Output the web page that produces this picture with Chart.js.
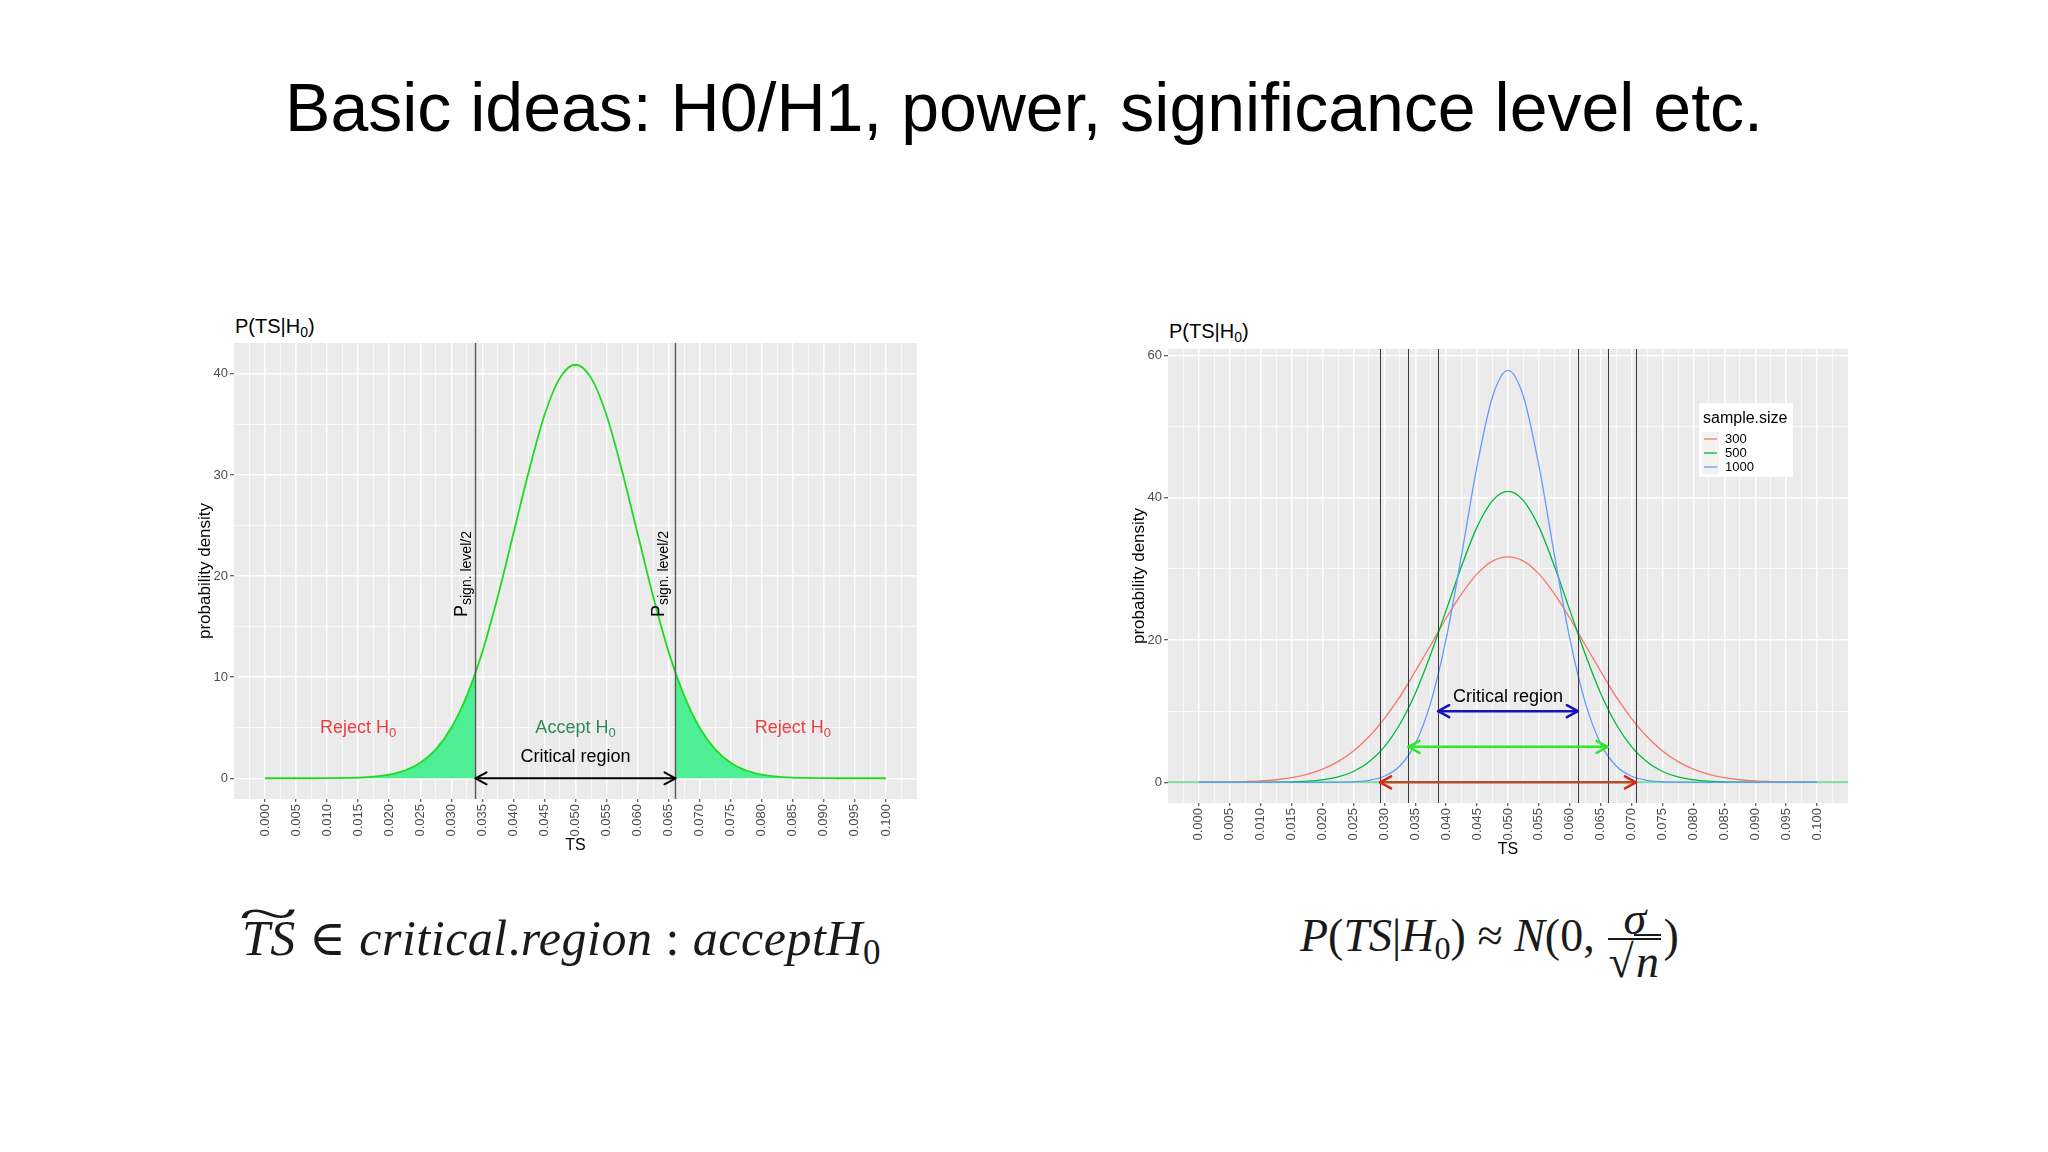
<!DOCTYPE html>
<html>
<head>
<meta charset="utf-8">
<script src="https://cdn.jsdelivr.net/npm/chart.js@4.4.1/dist/chart.umd.min.js"></script>
<style>
  html, body { margin: 0; padding: 0; background: #fff; }
  body { width: 2048px; height: 1152px; position: relative; overflow: hidden; font-family: "Liberation Sans", Arial, sans-serif; }
  .slide-title { position: absolute; left: 0; top: 73px; width: 2048px; text-align: center; font-size: 68px; line-height: 68px; color: #000; }
  .plot-title { position: absolute; font-size: 20px; line-height: 20px; color: #000; white-space: nowrap; }
  .plot-title sub { font-size: 14px; line-height: 0; vertical-align: -4px; }
  .chart-box { position: absolute; }
  .formula { position: absolute; font-family: "Liberation Serif", "DejaVu Serif", serif; color: #1a1a1a; white-space: nowrap; }
  .formula sub { font-size: 0.7em; line-height: 0; vertical-align: -0.25em; }
  #formulaLeft { left: 242px; top: 913px; font-size: 50px; line-height: 50px; letter-spacing: 0.5px; }
  #formulaRight { left: 1300px; top: 899px; font-size: 46px; line-height: 46px; }
  .tilde { position: relative; display: inline-block; }
  .tilde::before { content: "~"; position: absolute; left: 0; right: 0; top: -0.5em; text-align: center; font-style: normal; transform: scaleX(2.2); }
  .frac { display: inline-block; vertical-align: middle; text-align: center; margin: 0 0.05em; }
  .frac .num { display: block; line-height: 0.85em; padding: 0 0.1em; }
  .frac .den { display: block; line-height: 0.85em; border-top: 2px solid #1a1a1a; padding-top: 2px; }
  .rad { border-top: 2px solid #1a1a1a; padding: 0 0.05em; }
</style>
</head>
<body>
<div class="slide-title">Basic ideas: H0/H1, power, significance level etc.</div>

<div class="plot-title" style="left:235px; top:316px;">P(TS|H<sub>0</sub>)</div>
<div class="plot-title" style="left:1169px; top:321px;">P(TS|H<sub>0</sub>)</div>

<div class="chart-box" style="left:170px; top:300px;"><canvas id="leftChart" width="770" height="580"></canvas></div>
<div class="chart-box" style="left:1104px; top:306px;"><canvas id="rightChart" width="767" height="578"></canvas></div>

<div class="formula" id="formulaLeft"><span class="tilde"><i>TS</i></span> ∈ <i>critical</i>.<i>region</i> : <i>accept</i><i>H</i><sub>0</sub></div>
<div class="formula" id="formulaRight"><i>P</i>(<i>TS</i>|<i>H</i><sub>0</sub>) ≈ <i>N</i>(0, <span class="frac"><span class="num"><i>σ</i></span><span class="den">√<span class="rad"><i>n</i></span></span></span>)</div>

<script>
    // Значения TS (общая ось для обоих графиков)
    const tsValues = [0, 0.0025, 0.005, 0.0075, 0.01, 0.0125, 0.015, 0.0175, 0.02, 0.0225,
        0.025, 0.0275, 0.03, 0.0325, 0.035, 0.0375, 0.04, 0.0425, 0.045, 0.0475,
        0.05, 0.0525, 0.055, 0.0575, 0.06, 0.0625, 0.065, 0.0675, 0.07, 0.0725,
        0.075, 0.0775, 0.08, 0.0825, 0.085, 0.0875, 0.09, 0.0925, 0.095, 0.0975, 0.1];
    const tsTickLabels = ['0.000', '0.005', '0.010', '0.015', '0.020', '0.025', '0.030', '0.035',
        '0.040', '0.045', '0.050', '0.055', '0.060', '0.065', '0.070', '0.075', '0.080',
        '0.085', '0.090', '0.095', '0.100'];
    const leftDensityTicks = ['0', '10', '20', '30', '40'];
    const rightDensityTicks = ['0', '20', '40', '60'];

    // Плотности
    const densityN300 = [0.01, 0.03, 0.05, 0.11, 0.20, 0.37, 0.66, 1.13, 1.85, 2.91, 4.40, 6.40, 8.96,
        12.0, 15.6, 19.3, 23.1, 26.5, 29.3, 31.1, 31.7, 31.1, 29.3, 26.5, 23.1, 19.3, 15.6, 12.0,
        8.96, 6.40, 4.40, 2.91, 1.85, 1.13, 0.66, 0.37, 0.20, 0.11, 0.05, 0.03, 0.01];
    const densityN500 = [0, 0, 0, 0, 0.01, 0.03, 0.07, 0.16, 0.36, 0.77, 1.53, 2.85, 4.99, 8.17,
        12.5, 18.0, 24.2, 30.4, 35.9, 39.6, 40.9, 39.6, 35.9, 30.4, 24.2, 18.0, 12.5, 8.17,
        4.99, 2.85, 1.53, 0.77, 0.36, 0.16, 0.07, 0.03, 0.01, 0, 0, 0, 0];
    const densityN1000 = [0, 0, 0, 0, 0, 0, 0, 0, 0.01, 0.02, 0.08, 0.28, 0.86, 2.30, 5.41, 11.2,
        20.2, 32.0, 44.5, 54.2, 57.9, 54.2, 44.5, 32.0, 20.2, 11.2, 5.41, 2.30, 0.86, 0.28,
        0.08, 0.02, 0.01, 0, 0, 0, 0, 0, 0, 0, 0];

    // Границы критической области
    const sampleSizes = ['300', '500', '1000'];
    const lowerBounds = [0.0293, 0.0339, 0.0387];
    const upperBounds = [0.0707, 0.0661, 0.0613];
    const arrowLevels = [0, 5, 10];
    const boundDensityN500 = 10.6;

    const FONT = '"Liberation Sans", Arial, sans-serif';
    const curveColors = ['#F8766D', '#00BA38', '#619CFF'];
    const arrowColors = ['#B0502A', '#2EE82E', '#1414B8'];

    Chart.defaults.font.family = FONT;

    function toPoints(xs, ys) {
        return xs.map((x, i) => ({x: x, y: ys[i]}));
    }

    // Деления оси TS: подписи + малые линии сетки
    function tsTicks() {
        const ticks = [{value: -0.0025, minor: true, lbl: ''}];
        tsTickLabels.forEach(lbl => {
            ticks.push({value: Number(lbl), minor: false, lbl: lbl});
            ticks.push({value: Number(lbl) + 0.0025, minor: true, lbl: ''});
        });
        return ticks;
    }

    function densityTicks(labels, max) {
        const vals = labels.map(Number);
        const step = vals[1] - vals[0];
        const ticks = [];
        vals.forEach((v, i) => {
            ticks.push({value: v, minor: false, lbl: labels[i]});
            if (v + step / 2 < max) ticks.push({value: v + step / 2, minor: true, lbl: ''});
        });
        return ticks;
    }

    function gridStyle(tickLength) {
        return {
            color: '#FFFFFF',
            lineWidth: c => (c.tick && c.tick.minor) ? 0.7 : 1.5,
            drawTicks: true,
            tickLength: tickLength,
            tickWidth: 1,
            tickColor: c => (c.tick && c.tick.minor) ? 'rgba(0,0,0,0)' : '#333333'
        };
    }

    function makeScales(yMin, yMax, yLabels) {
        return {
            x: {
                type: 'linear', min: -0.005, max: 0.105,
                afterBuildTicks: axis => { axis.ticks = tsTicks(); },
                afterFit: axis => { axis.height = 81; },
                grid: gridStyle(3),
                border: {display: false},
                ticks: {
                    autoSkip: false, minRotation: 90, maxRotation: 90, padding: 2,
                    color: '#4D4D4D', font: {size: 13},
                    callback: (v, i, t) => t[i].lbl
                },
                title: {display: true, text: 'TS', color: '#000', font: {size: 16}, padding: {top: 0, bottom: 25}}
            },
            y: {
                type: 'linear', min: yMin, max: yMax,
                afterBuildTicks: axis => { axis.ticks = densityTicks(yLabels, yMax); },
                afterFit: axis => { axis.width = 64; },
                grid: gridStyle(4),
                border: {display: false},
                ticks: {
                    autoSkip: false, padding: 2, color: '#4D4D4D', font: {size: 13},
                    callback: (v, i, t) => t[i].lbl
                },
                title: {display: true, text: 'probability density', color: '#000', font: {size: 17}, padding: {top: 25, bottom: 0}}
            }
        };
    }

    // Серый фон панели как в ggplot
    const panelBackground = {
        id: 'panelBackground',
        beforeDraw(chart) {
            const {ctx, chartArea: a} = chart;
            ctx.save();
            ctx.fillStyle = '#EBEBEB';
            ctx.fillRect(a.left, a.top, a.right - a.left, a.bottom - a.top);
            ctx.restore();
        }
    };

    function drawArrow(ctx, x1, x2, y, color, width) {
        ctx.save();
        ctx.strokeStyle = color;
        ctx.lineWidth = width;
        ctx.lineCap = 'round';
        ctx.beginPath();
        ctx.moveTo(x1, y);
        ctx.lineTo(x2, y);
        ctx.stroke();
        ctx.restore();
    }

    function drawHeads(ctx, x1, x2, y, color, width) {
        const len = 11, spread = 6;
        ctx.save();
        ctx.strokeStyle = color;
        ctx.lineWidth = width;
        ctx.lineCap = 'round';
        ctx.lineJoin = 'round';
        ctx.beginPath();
        ctx.moveTo(x1 + len, y - spread); ctx.lineTo(x1, y); ctx.lineTo(x1 + len, y + spread);
        ctx.moveTo(x2 - len, y - spread); ctx.lineTo(x2, y); ctx.lineTo(x2 - len, y + spread);
        ctx.stroke();
        ctx.restore();
    }

    // Текст с нижним индексом, центр по (x, y)
    function drawSubText(ctx, main, sub, x, y, size, subSize, color, rotate) {
        ctx.save();
        ctx.fillStyle = color;
        ctx.textBaseline = 'alphabetic';
        ctx.font = size + 'px ' + FONT;
        const w1 = ctx.measureText(main).width;
        ctx.font = subSize + 'px ' + FONT;
        const w2 = sub ? ctx.measureText(sub).width : 0;
        ctx.translate(x, y);
        if (rotate) ctx.rotate(-Math.PI / 2);
        const start = -(w1 + w2) / 2;
        const base = rotate ? 0 : size * 0.716 / 2;
        ctx.font = size + 'px ' + FONT;
        ctx.fillText(main, start, base);
        if (sub) {
            ctx.font = subSize + 'px ' + FONT;
            ctx.fillText(sub, start + w1, base + size * 0.22);
        }
        ctx.restore();
    }

    const leftAnnotations = {
        id: 'leftAnnotations',
        afterDatasetsDraw(chart) {
            const {ctx, chartArea: a, scales: {x, y}} = chart;
            const lo = x.getPixelForValue(lowerBounds[1]);
            const hi = x.getPixelForValue(upperBounds[1]);
            ctx.save();
            ctx.strokeStyle = '#5A5A5A';
            ctx.lineWidth = 1.4;
            [lo, hi].forEach(px => {
                ctx.beginPath();
                ctx.moveTo(px, a.top);
                ctx.lineTo(px, a.bottom);
                ctx.stroke();
            });
            ctx.restore();
            drawArrow(ctx, lo, hi, y.getPixelForValue(0), '#000000', 2);
            drawHeads(ctx, lo, hi, y.getPixelForValue(0), '#000000', 2);

            drawSubText(ctx, 'Reject H', '0', x.getPixelForValue(0.015), y.getPixelForValue(5.1), 18, 13, '#E8413F');
            drawSubText(ctx, 'Accept H', '0', x.getPixelForValue(0.05), y.getPixelForValue(5.1), 18, 13, '#2E8B57');
            drawSubText(ctx, 'Reject H', '0', x.getPixelForValue(0.085), y.getPixelForValue(5.1), 18, 13, '#E8413F');
            drawSubText(ctx, 'Critical region', '', x.getPixelForValue(0.05), y.getPixelForValue(2.2), 18, 13, '#000000');
            drawSubText(ctx, 'P', 'sign. level/2', x.getPixelForValue(0.0325), y.getPixelForValue(20.2), 18, 14, '#000000', true);
            drawSubText(ctx, 'P', 'sign. level/2', x.getPixelForValue(0.0642), y.getPixelForValue(20.2), 18, 14, '#000000', true);
        }
    };

    const rightAnnotations = {
        id: 'rightAnnotations',
        beforeDatasetsDraw(chart) {
            const {ctx, chartArea: a, scales: {y}} = chart;
            ctx.save();
            ctx.strokeStyle = '#7CDB98';
            ctx.lineWidth = 2;
            ctx.beginPath();
            ctx.moveTo(a.left, y.getPixelForValue(0));
            ctx.lineTo(a.right, y.getPixelForValue(0));
            ctx.stroke();
            ctx.restore();
        },
        afterDatasetsDraw(chart) {
            const {ctx, chartArea: a, scales: {x, y}} = chart;
            ctx.save();
            ctx.strokeStyle = '#3A3A3A';
            ctx.lineWidth = 1;
            lowerBounds.concat(upperBounds).forEach(v => {
                const px = Math.round(x.getPixelForValue(v)) + 0.5;
                ctx.beginPath();
                ctx.moveTo(px, a.top);
                ctx.lineTo(px, a.bottom);
                ctx.stroke();
            });
            ctx.restore();
            sampleSizes.forEach((s, i) => {
                const x1 = x.getPixelForValue(lowerBounds[i]);
                const x2 = x.getPixelForValue(upperBounds[i]);
                const py = y.getPixelForValue(arrowLevels[i]);
                drawArrow(ctx, x1, x2, py, arrowColors[i], 2.5);
                drawHeads(ctx, x1, x2, py, i === 0 ? '#D42A16' : arrowColors[i], 2.5);
            });
            drawSubText(ctx, 'Critical region', '', x.getPixelForValue(0.05), y.getPixelForValue(12.2), 18, 13, '#000000');
        },
        afterDraw(chart) {
            // Легенда внутри панели
            const {ctx, chartArea: a} = chart;
            const left = a.right - 149, top = a.top + 54;
            ctx.save();
            ctx.fillStyle = '#FFFFFF';
            ctx.fillRect(left, top, 94, 74);
            ctx.fillStyle = '#000000';
            ctx.font = '16px ' + FONT;
            ctx.textBaseline = 'alphabetic';
            ctx.fillText('sample.size', left + 4, top + 20);
            sampleSizes.forEach((s, i) => {
                const cy = top + 36 + i * 14;
                ctx.fillStyle = '#F2F2F2';
                ctx.fillRect(left + 3, cy - 7, 17, 14);
                ctx.strokeStyle = curveColors[i];
                ctx.lineWidth = 1.3;
                ctx.beginPath();
                ctx.moveTo(left + 5, cy);
                ctx.lineTo(left + 18, cy);
                ctx.stroke();
                ctx.fillStyle = '#000000';
                ctx.font = '13px ' + FONT;
                ctx.textBaseline = 'middle';
                ctx.fillText(s, left + 26, cy);
            });
            ctx.restore();
        }
    };

    // Левый график: одна кривая с закрашенными хвостами
    const leftTail = toPoints(tsValues.filter(v => v < lowerBounds[1]), densityN500)
        .concat([{x: lowerBounds[1], y: boundDensityN500}]);
    const rightStart = tsValues.findIndex(v => v > upperBounds[1]);
    const rightTail = [{x: upperBounds[1], y: boundDensityN500}]
        .concat(toPoints(tsValues.slice(rightStart), densityN500.slice(rightStart)));

    new Chart(document.getElementById('leftChart'), {
        type: 'line',
        data: {
            datasets: [{
                data: toPoints(tsValues, densityN500),
                borderColor: '#1FDB1F',
                borderWidth: 1.8,
                pointRadius: 0,
                cubicInterpolationMode: 'monotone',
                fill: false
            }, {
                data: leftTail,
                borderWidth: 0,
                pointRadius: 0,
                backgroundColor: '#4EEE94',
                cubicInterpolationMode: 'monotone',
                fill: 'origin'
            }, {
                data: rightTail,
                borderWidth: 0,
                pointRadius: 0,
                backgroundColor: '#4EEE94',
                cubicInterpolationMode: 'monotone',
                fill: 'origin'
            }]
        },
        options: {
            responsive: false,
            animation: false,
            devicePixelRatio: 1,
            layout: {padding: {top: 43, right: 23, bottom: 0, left: 0}},
            scales: makeScales(-2.05, 43.05, leftDensityTicks),
            plugins: {legend: {display: false}, tooltip: {enabled: false}}
        },
        plugins: [panelBackground, leftAnnotations]
    });

    // Правый график: три размера выборки
    const seriesList = [densityN300, densityN500, densityN1000];
    new Chart(document.getElementById('rightChart'), {
        type: 'line',
        data: {
            datasets: sampleSizes.map((s, i) => ({
                label: s,
                data: toPoints(tsValues, seriesList[i]),
                borderColor: curveColors[i],
                borderWidth: 1.3,
                pointRadius: 0,
                cubicInterpolationMode: 'monotone',
                fill: false,
                order: 3 - i
            }))
        },
        options: {
            responsive: false,
            animation: false,
            devicePixelRatio: 1,
            layout: {padding: {top: 43, right: 23, bottom: 0, left: 0}},
            scales: makeScales(-2.9, 60.9, rightDensityTicks),
            plugins: {legend: {display: false}, tooltip: {enabled: false}}
        },
        plugins: [panelBackground, rightAnnotations]
    });
</script>
</body>
</html>
